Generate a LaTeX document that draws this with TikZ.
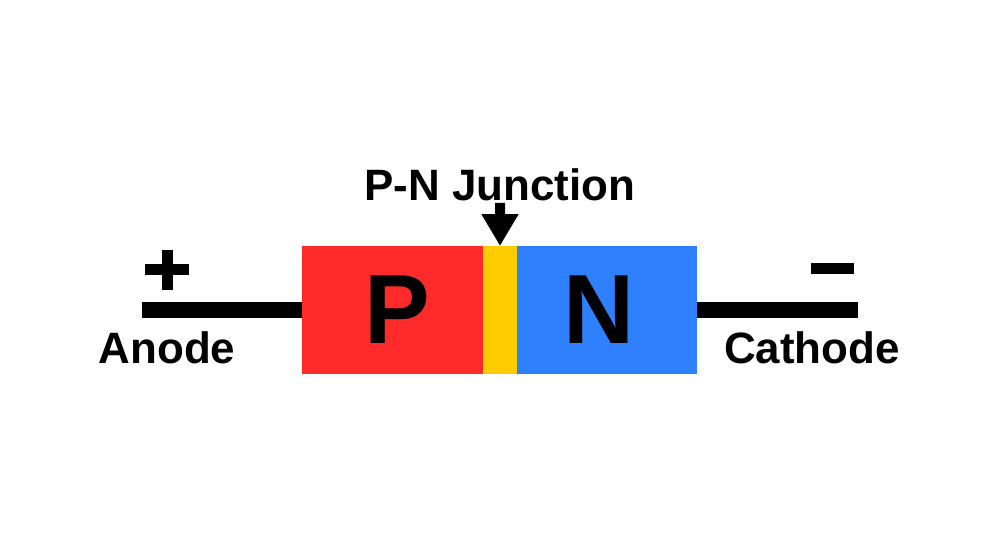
\documentclass[tikz,border=0pt]{standalone}
\usepackage{fontspec}
\setmainfont{Liberation Sans}
\usetikzlibrary{arrows.meta,positioning}
\definecolor{ptype}{HTML}{FF2B2B}
\definecolor{depletion}{HTML}{FFCC00}
\definecolor{ntype}{HTML}{2E80FF}

\begin{document}
\begin{tikzpicture}[x=0.02cm, y=-0.02cm,
    region/.style={rectangle, fill=#1, draw=none, inner sep=0pt, outer sep=0pt,
                   minimum height=2.56cm, font=\fontsize{56}{60}\selectfont\bfseries},
    wire/.style={line width=0.32cm},
    sign/.style={line width=0.22cm},
    lbl/.style={font=\fontsize{25}{30}\selectfont\bfseries, inner sep=0pt, anchor=base},
    pointer/.style={line width=0.2cm, -{Triangle[length=0.64cm, width=0.7cm]}}
  ]
    \useasboundingbox (0,0) rectangle (1000,539);

    % diode body
    \node[region=ptype, minimum width=3.62cm] (pside) at (392.5,310) {\kern0.2cm P};
    \node[region=depletion, minimum width=0.68cm, right=0pt of pside] (junction) {};
    \node[region=ntype, minimum width=3.6cm, right=0pt of junction] (nside) {\kern-0.3cm N};

    % leads
    \coordinate (anodeend) at (142,310);
    \coordinate (cathodeend) at (858,310);
    \draw[wire] (anodeend) -- (pside.west);
    \draw[wire] (nside.east) -- (cathodeend);

    % polarity signs
    \draw[sign] (145,269) -- (189,269) (167,250) -- (167,290);
    \draw[sign] (811,268) -- (854,268);

    \node[lbl] (anode)   at (167,363) {Anode};
    \node[lbl] (cathode) at (812,363) {Cathode};
    \node[lbl] (pnlabel) at (500,200) {P-N Junction};
    \draw[pointer, shorten <=0.04cm] (pnlabel.south) -- (junction.north);
  \end{tikzpicture}
\end{document}
